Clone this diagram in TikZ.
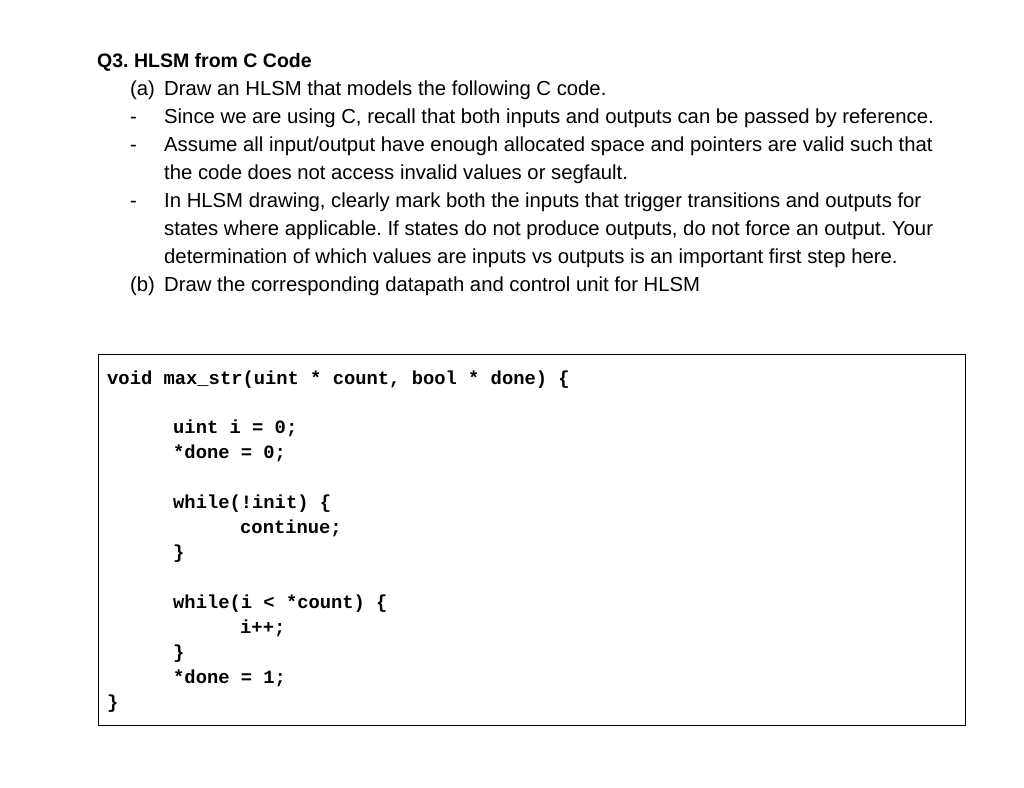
\documentclass[tikz,border=0pt]{standalone}
\usepackage{fontspec}
\setmainfont{Liberation Sans}
\newfontfamily\codefont{Liberation Mono}
\frenchspacing
\begin{document}
\begin{tikzpicture}[x=1pt,y=-1pt,
  txt/.style={anchor=base west,inner sep=0pt,font=\fontsize{20.3}{24}\selectfont},
  code/.style={anchor=base west,inner sep=0pt,font=\fontsize{18.8}{22}\codefont\bfseries}]
\useasboundingbox (0,0) rectangle (1024,787);
\node[txt,font=\fontsize{19.5}{24}\selectfont\bfseries] (t) at (97,67) {Q3. HLSM from C Code};
\node[txt] (am) at (130,95) {(a)};
\node[txt] (a) at (164,95) {Draw an HLSM that models the following C code.};
\node[txt] (d1) at (130,123) {-};
\node[txt] (l1) at (164,123) {Since we are using C, recall that both inputs and outputs can be passed by reference.};
\node[txt] (d2) at (130,151) {-};
\node[txt] (l2) at (164,151) {Assume all input/output have enough allocated space and pointers are valid such that};
\node[txt] (l3) at (164,179) {the code does not access invalid values or segfault.};
\node[txt] (d3) at (130,207) {-};
\node[txt] (l4) at (164,207) {In HLSM drawing, clearly mark both the inputs that trigger transitions and outputs for};
\node[txt] (l5) at (164,235) {states where applicable. If states do not produce outputs, do not force an output. Your};
\node[txt] (l6) at (164,263) {determination of which values are inputs vs outputs is an important first step here.};
\node[txt] (bm) at (130,291) {(b)};
\node[txt] (b) at (164,291) {Draw the corresponding datapath and control unit for HLSM};
\draw[line width=1pt] (98,354) rectangle (965,725);
\node[code] (c1) at (107,384) {void max\_str(uint * count, bool * done) \{};
\node[code] (c2) at (173,433) {uint i = 0;};
\node[code] (c3) at (173,458) {*done = 0;};
\node[code] (c4) at (173,508) {while(!init) \{};
\node[code] (c5) at (240,533) {continue;};
\node[code] (c6) at (173,558) {\}};
\node[code] (c7) at (173,608) {while(i < *count) \{};
\node[code] (c8) at (240,633) {i++;};
\node[code] (c9) at (173,658) {\}};
\node[code] (c10) at (173,683) {*done = 1;};
\node[code] (c11) at (107,708) {\}};
\end{tikzpicture}
\end{document}
